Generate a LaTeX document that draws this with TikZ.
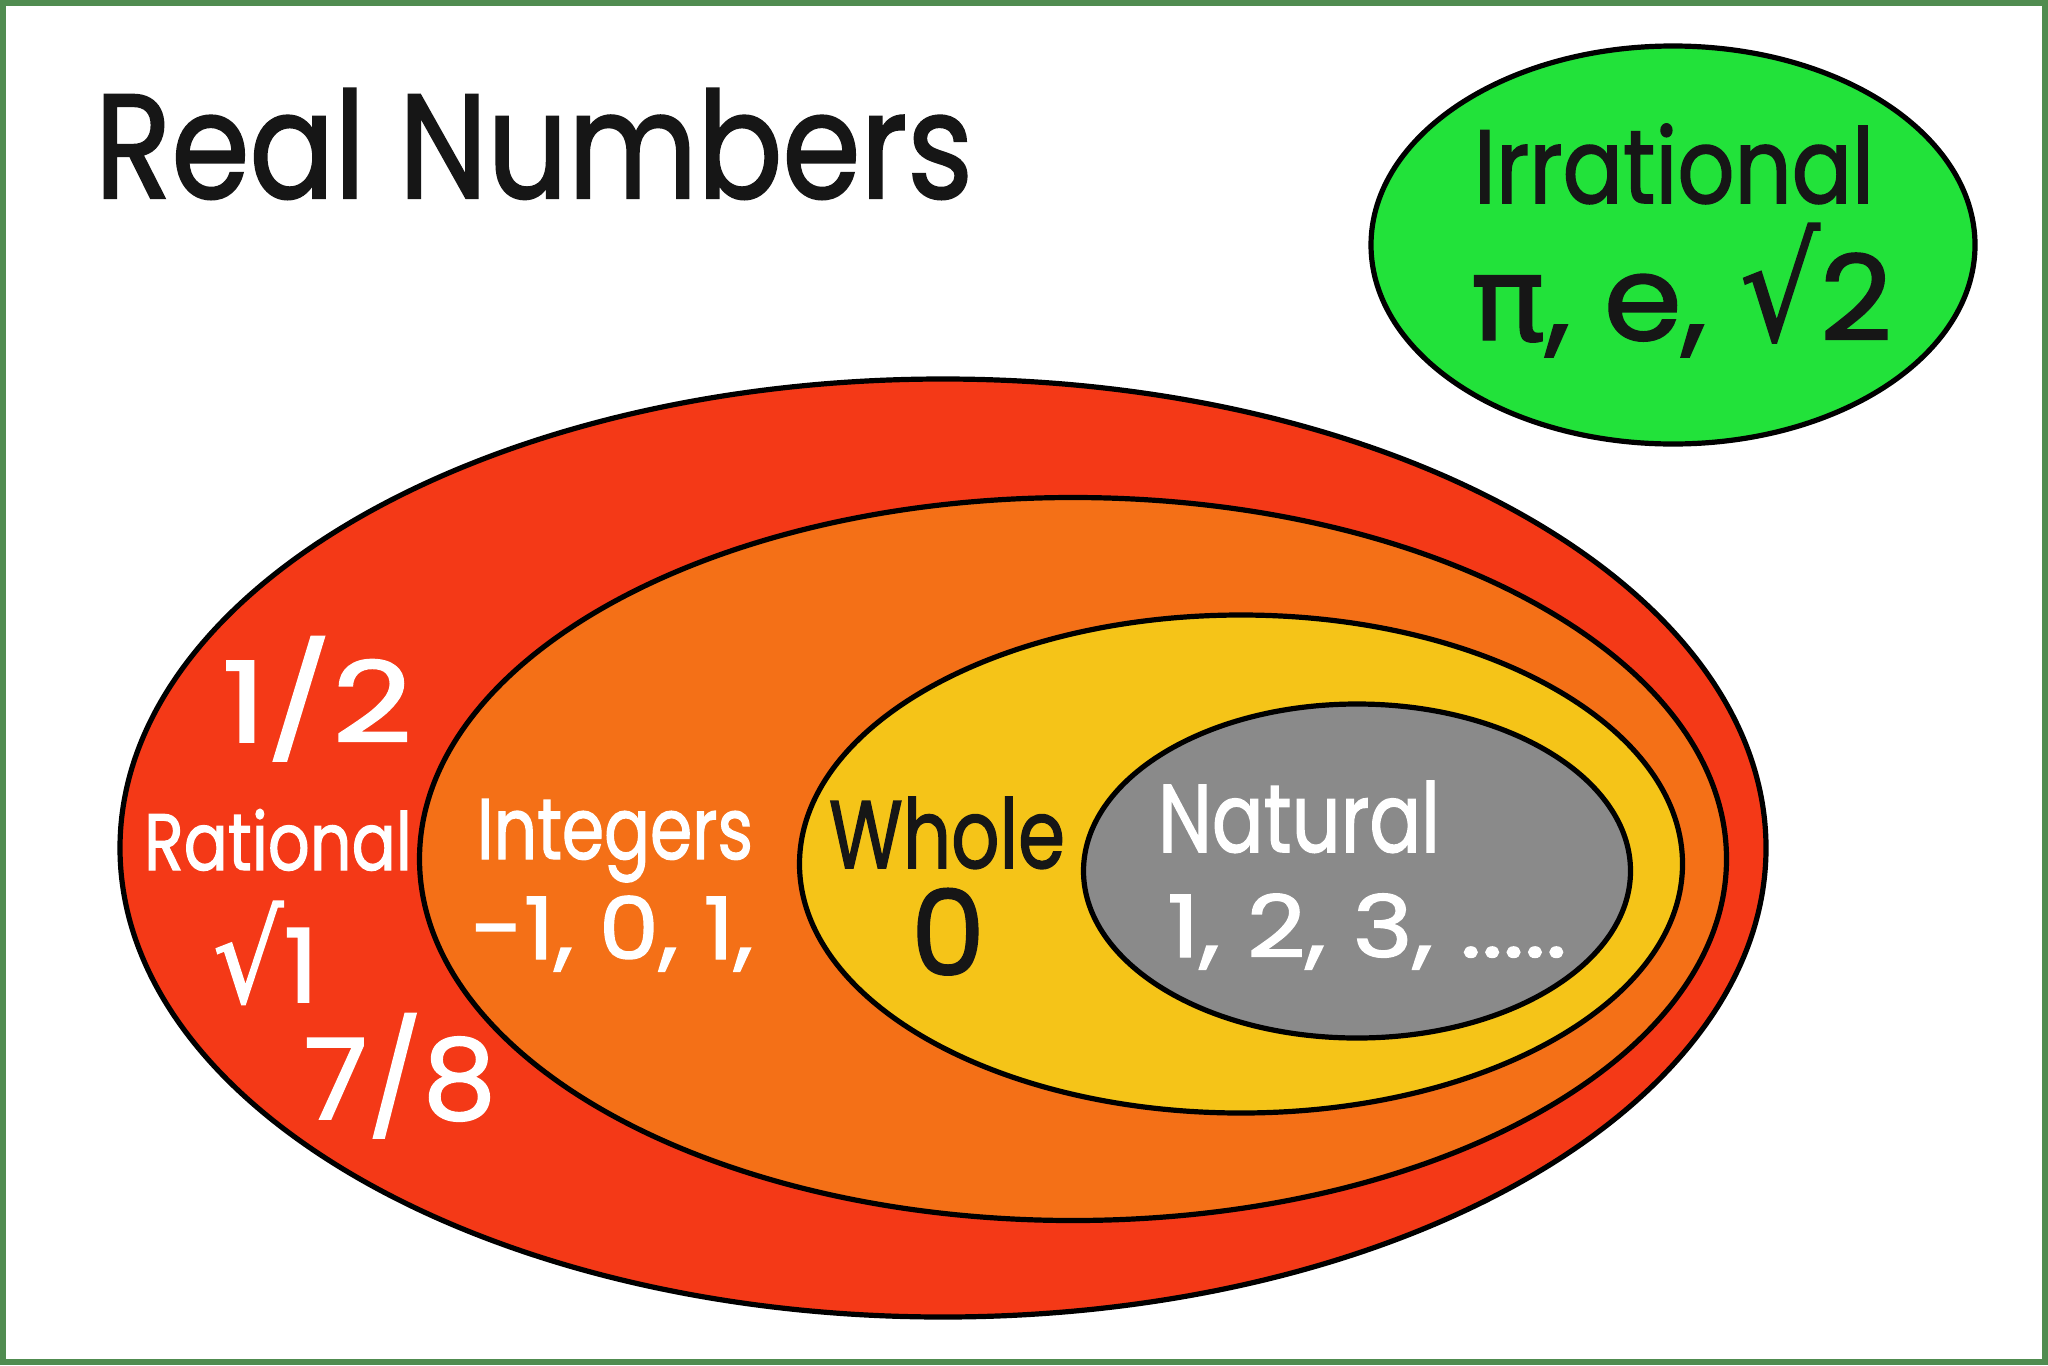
\documentclass[tikz,border=0pt]{standalone}
\usepackage{graphicx}
\usepackage{fontspec}
\setmainfont{Poppins}[FakeBold=1.6,AutoFakeBold=1.6]
\newfontfamily\djv{DejaVu Sans}[FakeBold=1.2]
\usetikzlibrary{shapes.geometric}
\definecolor{realred}{RGB}{244,57,23}
\definecolor{intorange}{RGB}{244,112,23}
\definecolor{wholeyellow}{RGB}{245,196,24}
\definecolor{natgrey}{RGB}{138,138,138}
\definecolor{irrgreen}{RGB}{34,226,58}
\definecolor{frame}{RGB}{80,140,80}
\definecolor{ink}{RGB}{22,22,22}
\newcommand\fitw[2]{\resizebox{#1}{\height}{#2}}
\newcommand\fs[1]{\fontsize{#1}{#1}\selectfont}
\newcommand\rt{\scalebox{1}[1.22]{\djv √}}
\begin{document}
\begin{tikzpicture}[x=0.5pt,y=-0.5pt,
  setshape/.style={ellipse, draw=black, line width=2.6pt, inner sep=0pt},
  lbl/.style={anchor=base, inner sep=0pt}]
\useasboundingbox (0,0) rectangle (2048,1365);
\draw[frame, fill=white, line width=3pt] (3,3) rectangle (2045,1362);
% sets
\node[setshape, fill=realred, minimum width=823pt, minimum height=469pt] (real) at (943,848) {};
\node[setshape, fill=intorange, minimum width=653.5pt, minimum height=361.5pt] (int) at (1073,859) {};
\node[setshape, fill=wholeyellow, minimum width=441.5pt, minimum height=249pt] (whole) at (1241,864) {};
\node[setshape, fill=natgrey, minimum width=273.5pt, minimum height=167pt] (nat) at (1357,871) {};
\node[setshape, fill=irrgreen, minimum width=302pt, minimum height=199pt] (irr) at (1673,245) {};
% labels
\node[lbl, text=ink, font=\fs{74}] (title) at (534,198) {\fitw{439pt}{Real Numbers}};
\node[lbl, text=ink, font=\fs{52}] (irrtxt) at (1674,203) {\fitw{200pt}{Irrational}};
\node[lbl, text=ink, font=\fs{59}] (irrex) at (1681,340) {\fitw{211pt}{{\djv π}, e, \rt2}};
\node[lbl, text=white, font=\fs{56}] (half) at (317,742) {\fitw{95pt}{1/2}};
\node[lbl, text=white, font=\fs{40}] (rattxt) at (278,870) {\fitw{134pt}{Rational}};
\node[lbl, text=white, font=\fs{51}] (sqrtone) at (266,1002) {\fitw{53pt}{\rt1}};
\node[lbl, text=white, font=\fs{56}] (seveneighths) at (400,1119) {\fitw{96pt}{7/8}};
\node[lbl, text=white, font=\fs{43}] (inttxt) at (615,859) {\fitw{138pt}{Integers}};
\node[lbl, text=white, font=\fs{43}] (intex) at (612,959) {\fitw{141pt}{-1, 0, 1,}};
\node[lbl, text=ink, font=\fs{48}] (wholetxt) at (947,868) {\fitw{118pt}{Whole}};
\node[lbl, text=ink, font=\fs{59}] (wholeex) at (948,975) {0};
\node[lbl, text=white, font=\fs{48}] (nattxt) at (1299,852) {\fitw{141pt}{Natural}};
\node[lbl, text=white, font=\fs{43}] (natex) at (1367,957) {\fitw{200pt}{1, 2, 3, .....}};
\end{tikzpicture}
\end{document}
